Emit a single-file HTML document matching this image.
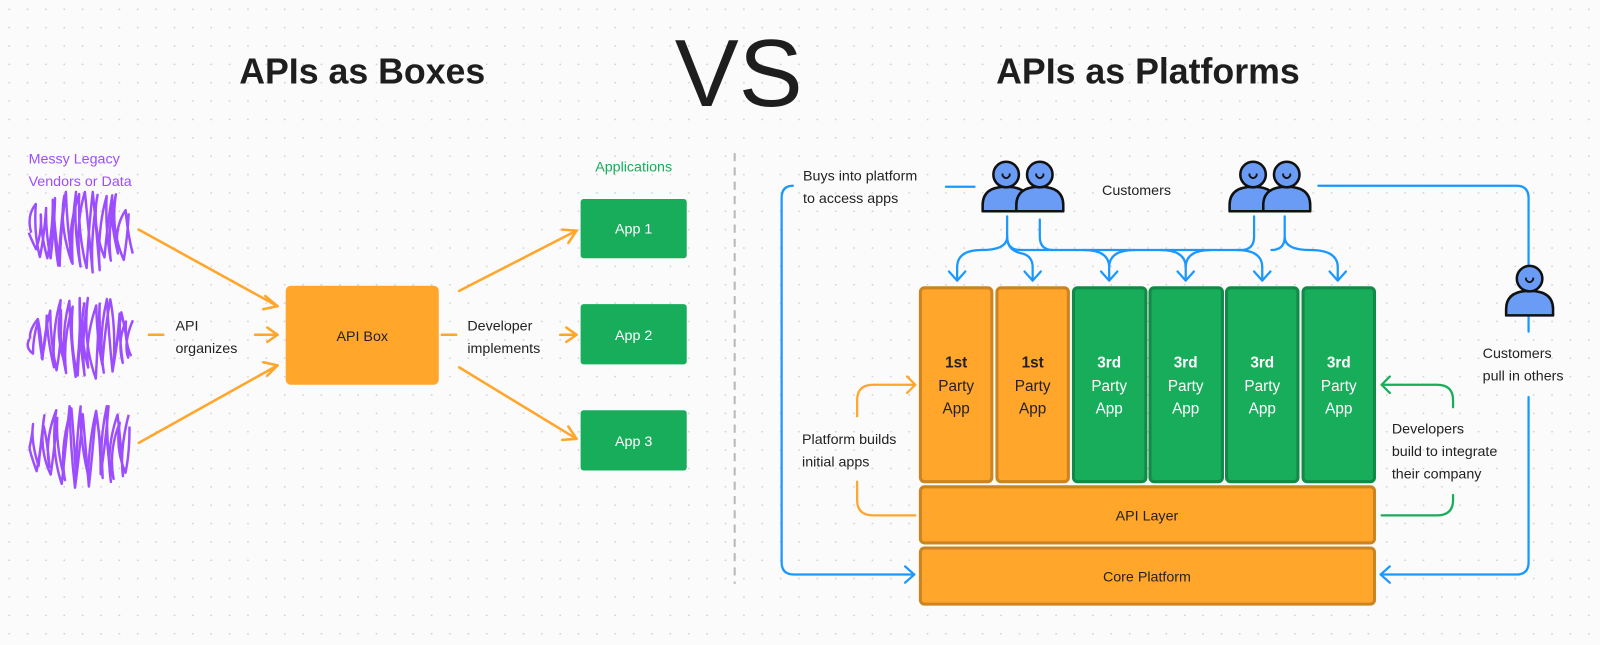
<!DOCTYPE html>
<html><head><meta charset="utf-8"><style>
html,body{margin:0;padding:0;background:#fbfbfb;}
svg{display:block;font-family:"Liberation Sans",sans-serif;}
</style></head><body>
<svg id="s" width="1600" height="645" viewBox="0 0 1568 632" xmlns="http://www.w3.org/2000/svg">
<defs>
<pattern id="dots" width="18" height="18" patternUnits="userSpaceOnUse"><circle cx="9" cy="9" r="0.9" fill="#d2d2d2"/></pattern>
</defs>
<rect width="1568" height="632" fill="#fbfbfb"/>
<rect width="1568" height="632" fill="url(#dots)"/>

<text x="355" y="82" font-size="35" font-weight="bold" text-anchor="middle" fill="#1e1e1e">APIs as Boxes</text>
<text x="724" y="104" font-size="94" text-anchor="middle" fill="#1e1e1e">VS</text>
<text x="1125" y="82" font-size="35" font-weight="bold" text-anchor="middle" fill="#1e1e1e">APIs as Platforms</text>

<line x1="720" y1="150" x2="720" y2="572" stroke="#b8b8b8" stroke-width="2" stroke-dasharray="8 6"/>

<text x="28" y="160" font-size="14" fill="#9b4dff">Messy Legacy</text>
<text x="28" y="182" font-size="14" fill="#9b4dff">Vendors or Data</text>
<g id="scrib" fill="none" stroke="#9b4dff" stroke-width="2.4" stroke-linejoin="round"></g>

<g stroke="#ffa62b" stroke-width="2.5" fill="none" stroke-linecap="round" stroke-linejoin="round">
<line x1="136" y1="225" x2="272" y2="300"/><polyline points="260,290 272,300 258,303"/>
<line x1="146" y1="328" x2="160" y2="328"/>
<line x1="250" y1="328" x2="272" y2="328"/><polyline points="262,321 272,328 262,335"/>
<line x1="136" y1="434" x2="272" y2="358"/><polyline points="258,355 272,358 262,368"/>
<line x1="433" y1="328" x2="447" y2="328"/>
<line x1="450" y1="285" x2="565" y2="226"/><polyline points="551,225 565,226 557,238"/>
<line x1="549" y1="328" x2="565" y2="328"/><polyline points="555,321 565,328 555,335"/>
<line x1="450" y1="360" x2="565" y2="430"/><polyline points="557,418 565,430 551,431"/>
</g>
<text x="172" y="324" font-size="14" fill="#222">API</text>
<text x="172" y="346" font-size="14" fill="#222">organizes</text>
<text x="458" y="324" font-size="14" fill="#222">Developer</text>
<text x="458" y="346" font-size="14" fill="#222">implements</text>
<rect x="280" y="280" width="150" height="97" rx="5" fill="#ffa62b"/>
<text x="355" y="334" font-size="14" text-anchor="middle" fill="#222">API Box</text>

<text x="621" y="168" font-size="14" text-anchor="middle" fill="#17ad5a">Applications</text>
<g fill="#17ad5a"><rect x="569" y="195" width="104" height="58" rx="3"/><rect x="569" y="298" width="104" height="59" rx="3"/><rect x="569" y="402" width="104" height="59" rx="3"/></g>
<g font-size="14" fill="#fff" text-anchor="middle"><text x="621" y="229">App 1</text><text x="621" y="333">App 2</text><text x="621" y="437">App 3</text></g>

<g stroke-width="3">
<rect x="902" y="282" width="70" height="190" rx="4" fill="#ffa62b" stroke="#cc8420"/>
<rect x="977" y="282" width="70" height="190" rx="4" fill="#ffa62b" stroke="#cc8420"/>
<rect x="1052" y="282" width="71" height="190" rx="4" fill="#17ad5a" stroke="#118a45"/>
<rect x="1127" y="282" width="71" height="190" rx="4" fill="#17ad5a" stroke="#118a45"/>
<rect x="1202" y="282" width="70" height="190" rx="4" fill="#17ad5a" stroke="#118a45"/>
<rect x="1277" y="282" width="70" height="190" rx="4" fill="#17ad5a" stroke="#118a45"/>
<rect x="902" y="477" width="445" height="55" rx="4" fill="#ffa62b" stroke="#cc8420"/>
<rect x="902" y="537" width="445" height="55" rx="4" fill="#ffa62b" stroke="#cc8420"/>
</g>
<g font-size="15" text-anchor="middle" fill="#222">
<text x="937" y="360" font-weight="bold">1st</text><text x="937" y="383">Party</text><text x="937" y="405">App</text>
<text x="1012" y="360" font-weight="bold">1st</text><text x="1012" y="383">Party</text><text x="1012" y="405">App</text>
</g>
<g font-size="15" text-anchor="middle" fill="#fff">
<text x="1087" y="360" font-weight="bold">3rd</text><text x="1087" y="383">Party</text><text x="1087" y="405">App</text>
<text x="1162" y="360" font-weight="bold">3rd</text><text x="1162" y="383">Party</text><text x="1162" y="405">App</text>
<text x="1237" y="360" font-weight="bold">3rd</text><text x="1237" y="383">Party</text><text x="1237" y="405">App</text>
<text x="1312" y="360" font-weight="bold">3rd</text><text x="1312" y="383">Party</text><text x="1312" y="405">App</text>
</g>
<text x="1124" y="510" font-size="14" text-anchor="middle" fill="#222">API Layer</text>
<text x="1124" y="570" font-size="14" text-anchor="middle" fill="#222">Core Platform</text>

<g font-size="14" fill="#222">
<text x="787" y="177">Buys into platform</text><text x="787" y="199">to access apps</text>
<text x="1080" y="191">Customers</text>
<text x="786" y="435">Platform builds</text><text x="786" y="457">initial apps</text>
<text x="1364" y="425">Developers</text><text x="1364" y="447">build to integrate</text><text x="1364" y="469">their company</text>
<text x="1453" y="351">Customers</text><text x="1453" y="373">pull in others</text>
</g>

<g stroke="#1a98ff" stroke-width="2.2" fill="none" stroke-linecap="round" stroke-linejoin="round">
<path d="M777 182 Q766 182 766 194 V551 Q766 563 778 563 H896"/><polyline points="887,555 896,563 887,571"/>
<line x1="927" y1="183" x2="955" y2="183"/>
<path d="M1292 182 H1486 Q1498 182 1498 194 V262"/>
<path d="M1498 308 V325"/>
<path d="M1498 389 V551 Q1498 563 1486 563 H1353"/><polyline points="1362,555 1353,563 1362,571"/>
<path d="M987 212 V232 Q987 245 1000 245 H1216 Q1229 245 1229 232 V212"/>
<path d="M1019 215 V232 Q1019 245 1032 245"/>
<path d="M1259 212 V232 Q1259 245 1246 245"/>
<path d="M987 232 Q987 245 962 245 Q938 245 938 262 V274"/>
<path d="M987 232 Q987 245 1000 248 Q1012 250 1012 262 V274"/>
<path d="M1062 245 Q1087 245 1087 262 V274 M1112 245 Q1087 245 1087 262"/>
<path d="M1137 245 Q1162 245 1162 262 V274 M1187 245 Q1162 245 1162 262"/>
<path d="M1212 245 Q1237 245 1237 262 V274"/>
<path d="M1259 232 Q1259 245 1284 245 Q1311 245 1311 262 V274"/>
<g><polyline points="930,266 938,275 946,266"/><polyline points="1004,266 1012,275 1020,266"/><polyline points="1079,266 1087,275 1095,266"/><polyline points="1154,266 1162,275 1170,266"/><polyline points="1229,266 1237,275 1245,266"/><polyline points="1303,266 1311,275 1319,266"/></g>
</g>

<g stroke="#ffa62b" stroke-width="2.2" fill="none" stroke-linecap="round" stroke-linejoin="round">
<path d="M840 408 V392 Q840 377 856 377 H897"/><polyline points="889,369 897,377 889,385"/>
<path d="M840 472 V490 Q840 505 856 505 H897"/>
</g>
<g stroke="#17ad5a" stroke-width="2.2" fill="none" stroke-linecap="round" stroke-linejoin="round">
<path d="M1424 399 V392 Q1424 377 1408 377 H1354"/><polyline points="1362,369 1354,377 1362,385"/>
<path d="M1424 485 V490 Q1424 505 1408 505 H1354"/>
</g>

<g id="people" fill="#6a9cf6" stroke="#111" stroke-width="2.5"></g>
</svg>
<script>
(function(){
var ns="http://www.w3.org/2000/svg";
var pg=document.getElementById('people');
function person(cx,hy){
 var b=document.createElementNS(ns,'path');
 b.setAttribute('d','M'+(cx-23)+' '+(hy+36)+' V'+(hy+30)+' Q'+(cx-23)+' '+(hy+12)+' '+cx+' '+(hy+12)+' Q'+(cx+23)+' '+(hy+12)+' '+(cx+23)+' '+(hy+30)+' V'+(hy+36)+' Z');
 b.setAttribute('stroke-linejoin','round');
 pg.appendChild(b);
 var h=document.createElementNS(ns,'circle');h.setAttribute('cx',cx);h.setAttribute('cy',hy);h.setAttribute('r',12.5);pg.appendChild(h);
 var m=document.createElementNS(ns,'path');m.setAttribute('d','M'+(cx-3.5)+' '+(hy-1)+' V'+(hy+1)+' Q'+cx+' '+(hy+6)+' '+(cx+3.5)+' '+(hy+1)+' V'+(hy-1));m.setAttribute('fill','none');m.setAttribute('stroke-width','1.8');pg.appendChild(m);
}
person(986,171);person(1019,171);person(1228,171);person(1261,171);person(1499,273);
var g=document.getElementById('scrib');
var seed=11;function r(){seed=(seed*9301+49297)%233280;return seed/233280;}
[[188,268],[292,372],[398,480]].forEach(function(yy){
 for(var pass=0;pass<2;pass++){
  var d='';var x=28+r()*4;var up=(pass%2==0);
  var prevy=(yy[0]+yy[1])/2;
  d='M'+x.toFixed(1)+' '+prevy.toFixed(1)+' ';
  while(x<126){
   var mid=(yy[0]+yy[1])/2, amp=(yy[1]-yy[0])/2;
   var edge=0.3+0.5*Math.sin(Math.PI*(x-28)/100);
   var y=up? mid-amp*(edge+r()*0.4) : mid+amp*(edge*0.8+r()*0.35);
   y=Math.max(yy[0],Math.min(yy[1],y));
   var nx=x+3+r()*5;
   d+='Q'+(x+(r()*12-6)).toFixed(1)+' '+((prevy+y)/2+(r()*10-5)).toFixed(1)+' '+nx.toFixed(1)+' '+y.toFixed(1)+' ';
   prevy=y;x=nx;up=!up;
  }
  var p=document.createElementNS(ns,'path');p.setAttribute('d',d);g.appendChild(p);
 }
});
})();
</script>
</body></html>
